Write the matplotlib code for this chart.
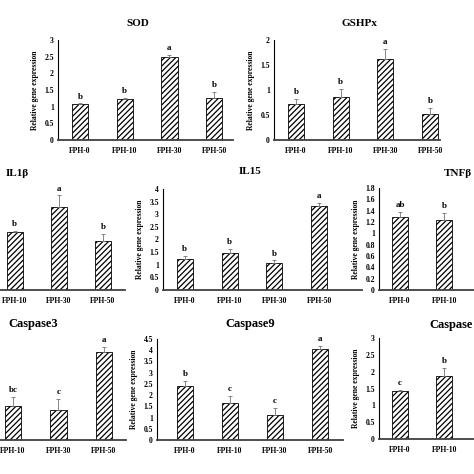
import numpy as np
import matplotlib
matplotlib.use("Agg")
import matplotlib.pyplot as plt

plt.rcParams['font.family'] = ['Liberation Serif', 'DejaVu Serif']
plt.rcParams['font.weight'] = 'bold'
plt.rcParams['hatch.linewidth'] = 0.9

# data
sod_cats = ["FPH-0", "FPH-10", "FPH-30", "FPH-50"]
sod_vals = [1.07, 1.23, 2.48, 1.27]
sod_err = [0.03, 0.04, 0.07, 0.17]
sod_sig = ["b", "b", "a", "b"]

gsh_cats = ["FPH-0", "FPH-10", "FPH-30", "FPH-50"]
gsh_vals = [0.73, 0.87, 1.62, 0.53]
gsh_err = [0.1, 0.16, 0.2, 0.12]
gsh_sig = ["b", "b", "a", "b"]

il1_cats = ["FPH-10", "FPH-30", "FPH-50"]
il1_vals = [2.3, 3.3, 1.95]
il1_err = [0.05, 0.45, 0.28]
il1_sig = ["b", "a", "b"]

il15_cats = ["FPH-0", "FPH-10", "FPH-30", "FPH-50"]
il15_vals = [1.23, 1.47, 1.07, 3.33]
il15_err = [0.13, 0.15, 0.1, 0.12]
il15_sig = ["b", "b", "b", "a"]

tnf_cats = ["FPH-0", "FPH-10"]
tnf_vals = [1.28, 1.23]
tnf_err = [0.1, 0.13]
tnf_sig = ["ab", "b"]

c3_cats = ["FPH-10", "FPH-30", "FPH-50"]
c3_vals = [1.52, 1.34, 3.93]
c3_err = [0.4, 0.5, 0.22]
c3_sig = ["bc", "c", "a"]

c9_cats = ["FPH-0", "FPH-10", "FPH-30", "FPH-50"]
c9_vals = [2.4, 1.65, 1.12, 4.05]
c9_err = [0.25, 0.3, 0.3, 0.15]
c9_sig = ["b", "c", "c", "a"]

c8_cats = ["FPH-0", "FPH-10"]
c8_vals = [1.43, 1.87]
c8_err = [0.03, 0.25]
c8_sig = ["c", "b"]

fig = plt.figure(figsize=(4.74, 4.74), dpi=100)
W = 474.0


def panel(left, right, top, bottom, cats, vals, err, sig, ymax, step, xlo, xhi, yaxis=True):
    ax = fig.add_axes([left / W, 1 - bottom / W, (right - left) / W, (bottom - top) / W])
    x = np.arange(len(cats))
    ax.bar(x, vals, width=0.36, color="white", edgecolor="black", hatch="//////", linewidth=0.6, zorder=2)
    ax.errorbar(x, vals, yerr=[np.zeros(len(err)), err], fmt="none", ecolor="0.45",
                elinewidth=0.6, capsize=1.2, capthick=0.6, zorder=3)
    for xi, v, e, s in zip(x, vals, err, sig):
        ax.annotate(s, (xi, v + e), xytext=(0, 2), textcoords="offset points",
                    ha="center", va="bottom", fontsize=6.5, fontweight="bold")
    ax.set_xlim(xlo, xhi)
    ax.set_ylim(0, ymax)
    ticks = np.arange(0, ymax + step / 2, step)
    ax.set_yticks(ticks)
    ax.set_yticklabels([("%g" % t) for t in ticks])
    ax.set_xticks(x)
    ax.set_xticklabels(cats)
    ax.tick_params(axis="both", length=0, labelsize=5.5, pad=3)
    ax.tick_params(axis="x", pad=5)
    for lab in ax.get_xticklabels() + ax.get_yticklabels():
        lab.set_fontweight("bold")
    ax.spines["top"].set_visible(False)
    ax.spines["right"].set_visible(False)
    ax.spines["left"].set_linewidth(0.8)
    ax.spines["bottom"].set_linewidth(1.3)
    ax.spines["bottom"].set_color("0.25")
    if yaxis:
        ax.set_ylabel("Relative gene expression", fontsize=5.5, fontweight="bold", labelpad=4)
    else:
        # left part of this panel lies outside the picture
        ax.set_yticklabels([])
    ax.patch.set_alpha(0)
    return ax


# top row
panel(58, 233, 40, 140, sod_cats, sod_vals, sod_err, sod_sig, 3, 0.5, -0.49, 3.42)
panel(274, 440, 40, 140, gsh_cats, gsh_vals, gsh_err, gsh_sig, 2, 0.5, -0.49, 3.22)
# middle row
panel(-35, 125, 189, 290, il1_cats, il1_vals, il1_err, il1_sig, 4, 0.5, -1.13, 2.5, yaxis=False)
panel(163, 362, 189, 290, il15_cats, il15_vals, il15_err, il15_sig, 4, 0.5, -0.49, 3.96)
panel(379, 500, 188, 290, tnf_cats, tnf_vals, tnf_err, tnf_sig, 1.8, 0.2, -0.48, 2.27)
# bottom row
panel(-35, 126, 339, 440, c3_cats, c3_vals, c3_err, c3_sig, 4.5, 0.5, -1.06, 2.49, yaxis=False)
panel(157, 343, 339, 440, c9_cats, c9_vals, c9_err, c9_sig, 4.5, 0.5, -0.62, 3.51)
panel(379, 500, 338, 439, c8_cats, c8_vals, c8_err, c8_sig, 3, 0.5, -0.48, 2.27)

# panel titles
titles = [("SOD", 138, 24, "center", 8), ("GSHPx", 359, 24, "center", 8),
          ("IL1\u03b2", 17, 173, "center", 8), ("IL15", 250, 172, "center", 8),
          ("TNF\u03b2", 458, 173, "center", 8), ("Caspase3", 33, 324, "center", 9),
          ("Caspase9", 250, 324, "center", 9), ("Caspase", 473, 325, "right", 9)]
for t, px, py, ha, fs in titles:
    fig.text(px / W, 1 - py / W, t, ha=ha, va="center", fontsize=fs, fontweight="bold")

fig.savefig("out.png", dpi=100)
